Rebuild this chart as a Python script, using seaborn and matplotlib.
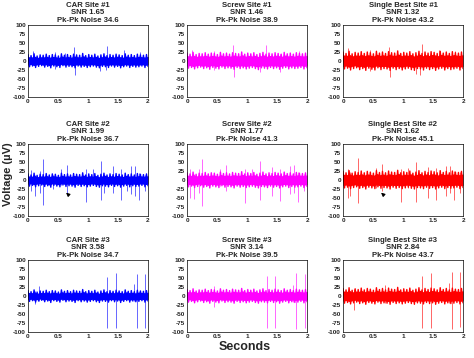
import numpy as np
import matplotlib
matplotlib.use("Agg")
import matplotlib.pyplot as plt
import seaborn as sns

# panel titles, one row per site, columns: CAR / Screw / Single Best
names = ["CAR", "Screw", "Single Best"]
snr = [[1.65, 1.46, 1.32],
       [1.99, 1.77, 1.62],
       [3.58, 3.14, 2.84]]
pkpk = [[34.6, 38.9, 43.2],
        [36.7, 41.3, 45.1],
        [34.7, 39.5, 43.7]]
colors = ["#0000ff", "#ff00ff", "#ff0000"]

# noise envelope (upper / lower) read across each trace, 40 bins over 0-2 s
car1_up = [18, 15, 20, 14, 17, 16, 19, 15, 18, 17, 14, 20, 16, 18, 15, 19, 17, 16, 21, 15,
           18, 16, 19, 14, 17, 20, 15, 18, 16, 19, 17, 15, 20, 16, 18, 15, 19, 17, 16, 18]
car1_lo = [-16, -14, -18, -15, -13, -17, -15, -19, -14, -16, -18, -13, -17, -15, -16, -19, -14, -17, -15, -18,
           -16, -14, -17, -19, -15, -16, -18, -14, -17, -15, -19, -16, -14, -18, -15, -17, -16, -14, -18, -15]
scr1_up = [22, 19, 24, 18, 21, 20, 23, 19, 22, 21, 18, 24, 20, 22, 19, 23, 21, 20, 25, 19,
           22, 20, 23, 18, 21, 24, 19, 22, 20, 23, 21, 19, 24, 20, 22, 19, 23, 21, 20, 22]
scr1_lo = [-20, -18, -22, -19, -17, -21, -19, -23, -18, -20, -22, -17, -21, -19, -20, -23, -18, -21, -19, -22,
           -20, -18, -21, -24, -19, -20, -22, -18, -21, -19, -23, -20, -18, -22, -19, -21, -20, -18, -22, -19]
sgl1_up = [25, 21, 27, 20, 24, 22, 26, 21, 25, 23, 20, 27, 22, 25, 21, 26, 23, 22, 28, 21,
           24, 22, 26, 20, 23, 27, 21, 25, 22, 26, 24, 21, 27, 22, 25, 21, 26, 23, 22, 25]
sgl1_lo = [-22, -20, -25, -21, -19, -24, -21, -26, -20, -23, -25, -19, -24, -21, -22, -26, -20, -24, -21, -25,
           -22, -20, -24, -26, -21, -22, -25, -20, -24, -21, -26, -22, -20, -25, -21, -24, -22, -20, -25, -21]

car2_up = [17, 14, 19, 13, 16, 15, 18, 14, 17, 16, 13, 19, 15, 17, 14, 18, 16, 15, 20, 14,
           17, 15, 18, 13, 16, 19, 14, 17, 15, 18, 16, 14, 19, 15, 17, 14, 18, 16, 15, 17]
car2_lo = [-17, -15, -19, -16, -14, -18, -16, -20, -15, -17, -19, -14, -18, -16, -17, -20, -15, -18, -16, -19,
           -17, -15, -18, -20, -16, -17, -19, -15, -18, -16, -20, -17, -15, -19, -16, -18, -17, -15, -19, -16]
scr2_up = [20, 17, 22, 16, 19, 18, 21, 17, 20, 19, 16, 22, 18, 20, 17, 21, 19, 18, 23, 17,
           20, 18, 21, 16, 19, 22, 17, 20, 18, 21, 19, 17, 22, 18, 20, 17, 21, 19, 18, 20]
scr2_lo = [-19, -17, -21, -18, -16, -20, -18, -22, -17, -19, -21, -16, -20, -18, -19, -22, -17, -20, -18, -21,
           -19, -17, -20, -22, -18, -19, -21, -17, -20, -18, -22, -19, -17, -21, -18, -20, -19, -17, -21, -18]
sgl2_up = [24, 20, 26, 19, 23, 21, 25, 20, 24, 22, 19, 26, 21, 24, 20, 25, 22, 21, 27, 20,
           23, 21, 25, 19, 22, 26, 20, 24, 21, 25, 23, 20, 26, 21, 24, 20, 25, 22, 21, 24]
sgl2_lo = [-22, -20, -24, -21, -19, -23, -21, -25, -20, -22, -24, -19, -23, -21, -22, -25, -20, -23, -21, -24,
           -22, -20, -23, -25, -21, -22, -24, -20, -23, -21, -25, -22, -20, -24, -21, -23, -22, -20, -24, -21]

car3_up = [15, 12, 17, 11, 14, 13, 16, 12, 15, 14, 11, 17, 13, 15, 12, 16, 14, 13, 18, 12,
           15, 13, 16, 11, 14, 17, 12, 15, 13, 16, 14, 12, 17, 13, 15, 12, 16, 14, 13, 15]
car3_lo = [-15, -13, -17, -14, -12, -16, -14, -18, -13, -15, -17, -12, -16, -14, -15, -18, -13, -16, -14, -17,
           -15, -13, -16, -18, -14, -15, -17, -13, -16, -14, -18, -15, -13, -17, -14, -16, -15, -13, -17, -14]
scr3_up = [18, 15, 20, 14, 17, 16, 19, 15, 18, 17, 14, 20, 16, 18, 15, 19, 17, 16, 21, 15,
           18, 16, 19, 14, 17, 20, 15, 18, 16, 19, 17, 15, 20, 16, 18, 15, 19, 17, 16, 18]
scr3_lo = [-17, -15, -19, -16, -14, -18, -16, -20, -15, -17, -19, -14, -18, -16, -17, -20, -15, -18, -16, -19,
           -17, -15, -18, -20, -16, -17, -19, -15, -18, -16, -20, -17, -15, -19, -16, -18, -17, -15, -19, -16]
sgl3_up = [21, 17, 23, 16, 20, 18, 22, 17, 21, 19, 16, 23, 18, 21, 17, 22, 19, 18, 24, 17,
           20, 18, 22, 16, 19, 23, 17, 21, 18, 22, 20, 17, 23, 18, 21, 17, 22, 19, 18, 21]
sgl3_lo = [-20, -18, -22, -19, -17, -21, -19, -23, -18, -20, -22, -17, -21, -19, -20, -23, -18, -21, -19, -22,
           -20, -18, -21, -23, -19, -20, -22, -18, -21, -19, -23, -20, -18, -22, -19, -21, -20, -18, -22, -19]

# spikes: time (s), top, bottom (uV)
car1_t = [0.08, 0.45, 0.62, 0.77, 0.79, 1.20, 1.30, 1.32, 1.60, 1.87]
car1_hi = [27, 24, 22, 38, 15, 12, 12, 42, 30, 24]
car1_lo2 = [-10, -22, -10, -10, -40, -28, -25, -12, -10, -12]
scr1_t = [0.08, 0.45, 0.77, 0.79, 1.22, 1.32, 1.55, 1.87]
scr1_hi = [30, 28, 45, 18, 15, 45, 20, 28]
scr1_lo2 = [-12, -25, -12, -45, -30, -12, -30, -15]
sgl1_t = [0.08, 0.45, 0.77, 0.79, 1.22, 1.28, 1.32, 1.60, 1.87]
sgl1_hi = [35, 30, 38, 20, 18, 18, 48, 30, 28]
sgl1_lo2 = [-15, -28, -15, -45, -35, -38, -15, -15, -18]

car2_t = [0.05, 0.12, 0.20, 0.25, 0.42, 0.55, 0.65, 0.97, 1.08, 1.22, 1.27, 1.42, 1.55, 1.65, 1.72, 1.78, 1.85, 1.95]
car2_hi = [28, 15, 25, 57, 15, 30, 43, 30, 30, 52, 15, 40, 30, 15, 38, 38, 20, 15]
car2_lo2 = [-30, -45, -35, -70, -25, -15, -35, -62, -15, -55, -35, -35, -55, -30, -40, -45, -55, -30]
scr2_t = [0.05, 0.12, 0.20, 0.25, 0.55, 0.65, 0.97, 1.08, 1.22, 1.42, 1.55, 1.72, 1.78, 1.85, 1.95]
scr2_hi = [30, 18, 30, 57, 30, 42, 30, 30, 52, 35, 30, 38, 42, 22, 18]
scr2_lo2 = [-50, -52, -35, -72, -18, -30, -65, -18, -55, -45, -58, -40, -35, -60, -30]
sgl2_t = [0.08, 0.12, 0.25, 0.55, 0.65, 0.97, 1.08, 1.22, 1.42, 1.55, 1.72, 1.78, 1.85, 1.95]
sgl2_hi = [30, 22, 62, 32, 45, 30, 32, 50, 35, 32, 38, 40, 25, 22]
sgl2_lo2 = [-50, -45, -65, -22, -30, -60, -22, -60, -50, -55, -45, -35, -55, -35]

car3_t = [0.12, 0.18, 1.32, 1.47, 1.77, 1.82, 1.95]
car3_hi = [14, 28, 52, 63, 32, 60, 62]
car3_lo2 = [-22, -14, -88, -88, -14, -90, -88]
scr3_t = [0.45, 1.33, 1.47, 1.77, 1.82, 1.97]
scr3_hi = [28, 55, 55, 30, 65, 62]
scr3_lo2 = [-30, -88, -90, -17, -92, -88]
sgl3_t = [0.18, 0.70, 1.32, 1.47, 1.77, 1.82, 1.95]
sgl3_hi = [20, 30, 55, 65, 35, 68, 68]
sgl3_lo2 = [-38, -20, -90, -90, -20, -92, -85]

uppers = [[car1_up, scr1_up, sgl1_up], [car2_up, scr2_up, sgl2_up], [car3_up, scr3_up, sgl3_up]]
lowers = [[car1_lo, scr1_lo, sgl1_lo], [car2_lo, scr2_lo, sgl2_lo], [car3_lo, scr3_lo, sgl3_lo]]
spk_t = [[car1_t, scr1_t, sgl1_t], [car2_t, scr2_t, sgl2_t], [car3_t, scr3_t, sgl3_t]]
spk_hi = [[car1_hi, scr1_hi, sgl1_hi], [car2_hi, scr2_hi, sgl2_hi], [car3_hi, scr3_hi, sgl3_hi]]
spk_lo = [[car1_lo2, scr1_lo2, sgl1_lo2], [car2_lo2, scr2_lo2, sgl2_lo2], [car3_lo2, scr3_lo2, sgl3_lo2]]

sns.set_style("white")
plt.rcParams['font.family'] = ['Liberation Sans', 'DejaVu Sans']
plt.rcParams['axes.unicode_minus'] = False

W, H = 474, 358
fig = plt.figure(figsize=(W / 100, H / 100), dpi=100)
fig.patch.set_facecolor("white")

lefts = [28, 187, 343]
tops = [25, 144, 260]
aw, ah = 120, 72

for r in range(3):
    for c in range(3):
        ax = fig.add_axes([lefts[c] / W, 1 - (tops[r] + ah) / H, aw / W, ah / H])
        up = uppers[r][c]
        lo = lowers[r][c]
        # zig-zag between upper and lower envelope values
        ys = np.ravel(np.column_stack([up, lo]))
        xs = np.linspace(0, 2, len(ys))
        sns.lineplot(x=xs, y=ys, ax=ax, color=colors[c], lw=1.0,
                     sort=False, estimator=None)
        ax.fill_between(np.linspace(0, 2, len(up)), np.array(lo) * 0.7,
                        np.array(up) * 0.7, color=colors[c], lw=0)
        ax.vlines(spk_t[r][c], spk_lo[r][c], spk_hi[r][c], color=colors[c],
                  lw=0.7, alpha=0.6)
        ax.set_xlim(0, 2)
        ax.set_ylim(-100, 100)
        ax.set_xticks([0, 0.5, 1, 1.5, 2])
        ax.set_xticklabels(["0", "0.5", "1", "1.5", "2"])
        ax.set_yticks(range(-100, 101, 25))
        ax.tick_params(direction="in", length=2, width=0.5, labelsize=4.6, pad=1.5)
        for lab in ax.get_xticklabels() + ax.get_yticklabels():
            lab.set_fontweight("bold")
        for s in ax.spines.values():
            s.set_linewidth(0.5)
            s.set_color("black")
        ax.set_title(f"{names[c]} Site #{r + 1}\nSNR {snr[r][c]:.2f}\nPk-Pk Noise {pkpk[r][c]}",
                     fontsize=5.6, fontweight="bold", pad=2, linespacing=1.15)
        # mouse cursor captured in the original screenshot
        if r == 1 and c in (0, 2):
            ax.annotate("", xy=(0.6, -30), xytext=(0.7, -45),
                        arrowprops=dict(arrowstyle="-|>", color="black", lw=0.8,
                                        mutation_scale=5))

fig.text(8 / W, 1 - 174 / H, "Voltage (\u00b5V)", rotation=90, ha="center",
         va="center", fontsize=8, fontweight="bold")
fig.text(245 / W, 1 - 347 / H, "Seconds", ha="center", va="center",
         fontsize=9, fontweight="bold")

fig.savefig("out.png", dpi=100)
